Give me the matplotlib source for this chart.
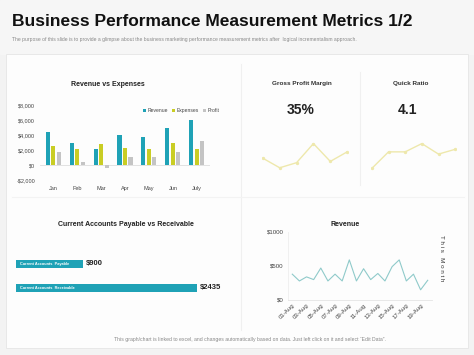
import matplotlib
matplotlib.use("Agg")
import matplotlib.pyplot as plt
from matplotlib.patches import Rectangle
import numpy as np

plt.rcParams['font.family'] = ['Liberation Sans', 'DejaVu Sans']

# ---------------- data ----------------
months = ["Jan", "Feb", "Mar", "Apr", "May", "Jun", "July"]
revenue = [4400, 3000, 2200, 4000, 3800, 5000, 6000]
expenses = [2600, 2200, 2800, 2300, 2200, 3000, 2200]
profit = [1800, 400, -400, 1100, 1100, 1800, 3200]
bar_yticks = [-2000, 0, 2000, 4000, 6000, 8000]
bar_ytick_labels = ["-$2,000", "$0", "$2,000", "$4,000", "$6,000", "$8,000"]

gpm_value = "35%"
gpm_trend = [0.42, 0.12, 0.28, 0.88, 0.32, 0.62]
qr_value = "4.1"
qr_trend = [0.10, 0.62, 0.62, 0.88, 0.55, 0.70]

ap_labels = ["Current Accounts  Payable", "Current Accounts  Receivable"]
ap_values = [900, 2435]
ap_value_labels = ["$900", "$2435"]

rev_days = ["%02d-Aug" % d for d in range(1, 21)]
rev_values = [380, 280, 340, 300, 470, 280, 380, 280, 590, 280,
              460, 300, 390, 280, 490, 590, 280, 380, 150, 290]
rev_yticks = [0, 500, 1000]
rev_ytick_labels = ["$0", "$500", "$1000"]

# --------------- figure ---------------
W, H = 474, 355
fig = plt.figure(figsize=(W / 100, H / 100), dpi=100)
fig.patch.set_facecolor("#f3f3f3")

def fx(x):
    return x / W

def fy(y):
    return 1 - y / H

def ax_rect(x0, y0, x1, y1):
    return [fx(x0), fy(y1), fx(x1) - fx(x0), fy(y0) - fy(y1)]

# background card
bg = fig.add_axes([0, 0, 1, 1])
bg.set_xlim(0, W)
bg.set_ylim(H, 0)
bg.axis("off")
bg.add_patch(Rectangle((0, 0), W, 54, color="#f6f6f6", zorder=0))
bg.add_patch(Rectangle((6, 54), 462, 294, facecolor="#fdfdfd", edgecolor="#e8e8e8", lw=0.7, zorder=1))
bg.plot([241, 241], [64, 330], color="#f0f0f0", lw=0.8, zorder=2)
bg.plot([360, 360], [72, 185], color="#f0f0f0", lw=0.8, zorder=2)
bg.plot([12, 464], [197, 197], color="#f3f3f3", lw=0.8, zorder=2)

teal = "#1fa2b6"
yel = "#c9cd24"
gry = "#c4c4c4"
spark = "#eee8ac"
linec = "#8fcaca"

fig.text(fx(12), fy(22), "Business Performance Measurement Metrics 1/2",
         fontsize=12.5, fontweight="bold", color="#111111", va="center", ha="left")
fig.text(fx(12), fy(40),
         "The purpose of this slide is to provide a glimpse about the business marketing performance measurement metrics after  logical incrementalism approach.",
         fontsize=3.6, color="#888888", va="center", ha="left")

# --------------- Revenue vs Expenses ---------------
ax = fig.add_axes(ax_rect(40, 105, 210, 180))
x = np.arange(len(months))
bw = 0.17
ax.bar(x - 0.23, revenue, bw, color=teal, label="Revenue", zorder=3)
ax.bar(x, expenses, bw, color=yel, label="Expenses", zorder=3)
ax.bar(x + 0.23, profit, bw, color=gry, label="Profit", zorder=3)
ax.set_ylim(-2000, 8000)
ax.set_xlim(-0.55, 6.55)
ax.set_yticks(bar_yticks)
ax.set_yticklabels(bar_ytick_labels)
ax.set_xticks(x)
ax.set_xticklabels(months)
ax.tick_params(axis="both", length=0, labelsize=4, colors="#444444")
ax.tick_params(axis="x", pad=4)
ax.axhline(0, color="#dddddd", lw=0.6, zorder=2)
for s in ax.spines.values():
    s.set_visible(False)
ax.set_facecolor("none")
ax.legend(loc="upper right", bbox_to_anchor=(1.08, 1.02), ncol=3, fontsize=3.6,
          frameon=False, handlelength=0.6, handleheight=0.6, handletextpad=0.3,
          columnspacing=0.8, labelcolor="#444444")
fig.text(fx(108), fy(84), "Revenue vs Expenses", fontsize=5, fontweight="bold",
         color="#222222", ha="center", va="center")

# --------------- Gross profit margin / Quick ratio ---------------
fig.text(fx(302), fy(84), "Gross Profit Margin", fontsize=4.6, fontweight="bold",
         color="#333333", ha="center", va="center")
fig.text(fx(301), fy(110), gpm_value, fontsize=10, fontweight="bold",
         color="#222222", ha="center", va="center")
fig.text(fx(411), fy(84), "Quick Ratio", fontsize=4.6, fontweight="bold",
         color="#333333", ha="center", va="center")
fig.text(fx(408), fy(110), qr_value, fontsize=10, fontweight="bold",
         color="#222222", ha="center", va="center")

for trend, (x0, x1) in [(gpm_trend, (262, 348)), (qr_trend, (371, 456))]:
    sa = fig.add_axes(ax_rect(x0, 142, x1, 170))
    sa.plot(range(len(trend)), trend, color=spark, lw=1.0, marker="o", ms=1.4)
    sa.set_xlim(-0.05, len(trend) - 0.95)
    sa.set_ylim(0.05, 0.93)
    sa.axis("off")

# --------------- Accounts payable vs receivable ---------------
fig.text(fx(126), fy(224), "Current Accounts Payable vs Receivable", fontsize=5,
         fontweight="bold", color="#222222", ha="center", va="center")
hx = fig.add_axes(ax_rect(16, 252, 197, 300))
ypos = [0, 1]
hx.barh(ypos, ap_values, height=0.32, color=teal)
hx.set_xlim(0, max(ap_values))
hx.set_ylim(1.5, -0.5)
hx.axis("off")
for yp, v, lab, vl in zip(ypos, ap_values, ap_labels, ap_value_labels):
    hx.text(max(ap_values) * 0.02, yp, lab, fontsize=2.8, color="white",
            fontweight="bold", va="center", ha="left")
    hx.text(v + max(ap_values) * 0.015, yp, vl, fontsize=5.5, color="#222222",
            fontweight="bold", va="center", ha="left")

# --------------- Revenue line ---------------
rx = fig.add_axes(ax_rect(288, 232, 432, 300))
rx.plot(range(len(rev_values)), rev_values, color=linec, lw=0.8)
rx.set_xlim(-0.6, 19.6)
rx.set_ylim(0, 1000)
rx.set_yticks(rev_yticks)
rx.set_yticklabels(rev_ytick_labels)
rx.set_xticks(range(0, 20, 2))
rx.set_xticklabels(rev_days[::2], rotation=45, ha="right", rotation_mode="anchor")
rx.tick_params(axis="both", length=0, labelsize=4.4, colors="#444444")
rx.tick_params(axis="y", pad=3)
rx.tick_params(axis="x", pad=2)
for k in ["top", "right"]:
    rx.spines[k].set_visible(False)
rx.spines["left"].set_color("#eeeeee")
rx.spines["bottom"].set_color("#e4e4e4")
rx.spines["left"].set_linewidth(0.6)
rx.spines["bottom"].set_linewidth(0.6)
rx.set_facecolor("none")
fig.text(fx(345), fy(224), "Revenue", fontsize=5, fontweight="bold",
         color="#222222", ha="center", va="center")
fig.text(fx(442), fy(258), "T h i s   M o n t h", fontsize=4.5, color="#333333",
         rotation=-90, ha="center", va="center")

fig.text(fx(250), fy(340),
         "This graph/chart is linked to excel, and changes automatically based on data. Just left click on it and select \u201cEdit Data\u201d.",
         fontsize=3.7, color="#888888", ha="center", va="center")

fig.savefig("out.png", dpi=100, facecolor=fig.get_facecolor())
